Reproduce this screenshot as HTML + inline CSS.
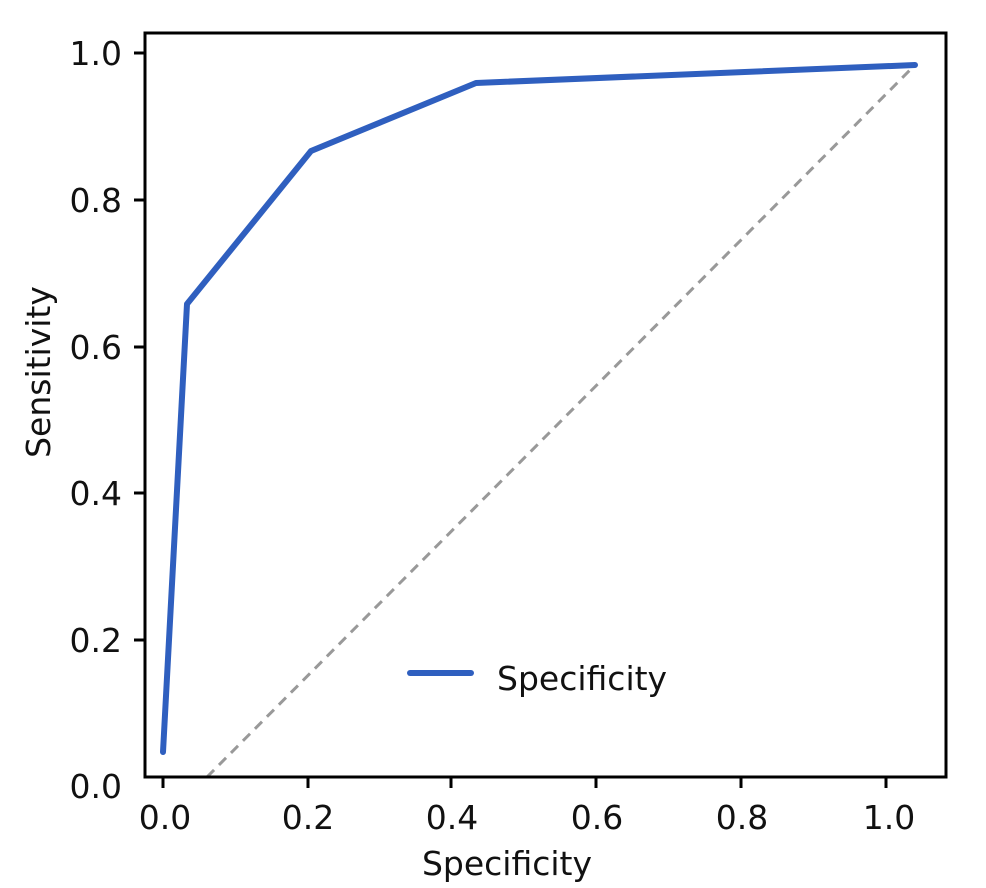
<!DOCTYPE html>
<html><head><meta charset="utf-8"><style>
html,body{margin:0;padding:0;background:#fff;}
svg{display:block;font-family:"DejaVu Sans","Liberation Sans",sans-serif;}
</style></head><body>
<svg width="986" height="888" viewBox="0 0 986 888" xmlns="http://www.w3.org/2000/svg">
<rect width="986" height="888" fill="#fff"/>
<line x1="207" y1="777" x2="915" y2="65" stroke="#999" stroke-width="3" stroke-dasharray="10,7"/>
<polyline points="163,752 187,304 311,151 476,83 915,65" fill="none" stroke="#2f5fbf" stroke-width="6" stroke-linejoin="round" stroke-linecap="round"/>
<rect x="145" y="33" width="801" height="744" fill="none" stroke="#000" stroke-width="3"/>
<g stroke="#000" stroke-width="3">
<line x1="134" y1="53" x2="145" y2="53"/><line x1="134" y1="200" x2="145" y2="200"/>
<line x1="134" y1="347" x2="145" y2="347"/><line x1="134" y1="493" x2="145" y2="493"/>
<line x1="134" y1="640" x2="145" y2="640"/>
<line x1="163" y1="777" x2="163" y2="788"/><line x1="308" y1="777" x2="308" y2="788"/>
<line x1="451" y1="777" x2="451" y2="788"/><line x1="596" y1="777" x2="596" y2="788"/>
<line x1="741" y1="777" x2="741" y2="788"/><line x1="886" y1="777" x2="886" y2="788"/>
</g>
<g font-size="33" fill="#111" text-anchor="end">
<text x="122" y="65">1.0</text><text x="122" y="212">0.8</text>
<text x="122" y="359">0.6</text><text x="122" y="505">0.4</text>
<text x="122" y="652">0.2</text><text x="122" y="798">0.0</text>
</g>
<g font-size="33" fill="#111" text-anchor="middle">
<text x="165" y="829">0.0</text><text x="308" y="829">0.2</text>
<text x="452" y="829">0.4</text><text x="597" y="829">0.6</text>
<text x="742" y="829">0.8</text><text x="889" y="829">1.0</text>
<text x="507" y="875">Specificity</text>
<text transform="translate(50,372) rotate(-90)">Sensitivity</text>
</g>
<line x1="410" y1="673" x2="471" y2="673" stroke="#2f5fbf" stroke-width="6" stroke-linecap="round"/>
<text x="497" y="690" font-size="33" fill="#111">Specificity</text>
</svg>
</body></html>
